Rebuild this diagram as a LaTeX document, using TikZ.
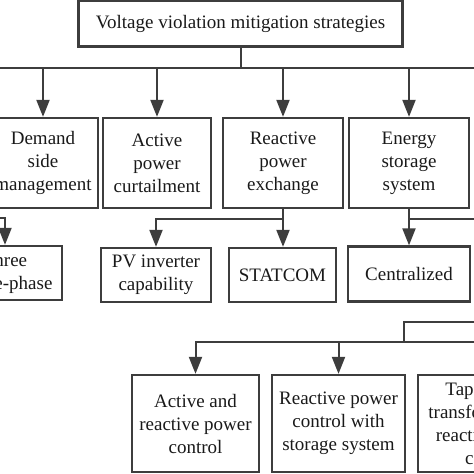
\documentclass[tikz,border=0pt]{standalone}
\usepackage{fontspec}
\setmainfont{Liberation Serif}
\usepackage{tikz}
\usetikzlibrary{arrows.meta}
\definecolor{linegray}{HTML}{3D3D3D}
\tikzset{box/.style={draw=linegray, line width=2.3pt, align=center, inner sep=1pt, text=black!90,
    font=\fontsize{19}{23}\selectfont}}
\tikzset{link/.style={draw=linegray, line width=2pt}}
\tikzset{arr/.style={link, -{Triangle[length=17pt, width=13pt]}}}

\begin{document}
\begin{tikzpicture}[x=1pt, y=-1pt]
    \useasboundingbox (0, 0) rectangle (474, 474);
    \clip (0, 0) rectangle (474, 474);

    \node[box, minimum width=324pt, minimum height=46pt] at (240.5, 23.5) (top) {Voltage violation mitigation strategies};

    % first level
    \node[box, minimum width=110pt, minimum height=90pt] at (43, 163) (dsm) {Demand\\side\\management};
    \node[box, minimum width=108pt, minimum height=90pt] at (157, 163) (apc) {Active\\power\\curtailment};
    \node[box, minimum width=120pt, minimum height=90pt] at (283, 163) (rpe) {Reactive\\power\\exchange};
    \node[box, minimum width=120pt, minimum height=90pt] at (409, 163) (ess) {Energy\\storage\\system};

    % second level
    \node[box, minimum width=114pt, minimum height=54pt] at (5, 273) (phase) {Three\\single-phase};
    \node[box, minimum width=110pt, minimum height=54pt] at (156, 275) (pvinv) {PV inverter\\capability};
    \node[box, minimum width=107pt, minimum height=54pt] at (282.5, 275) (statcom) {STATCOM};
    \node[box, minimum width=122pt, minimum height=55pt] at (409, 274) (central) {Centralized};

    % third level
    \node[box, minimum width=127pt, minimum height=97pt] at (195.5, 423.5) (arpc) {Active and\\reactive power\\control};
    \node[box, minimum width=133pt, minimum height=97pt] at (338.5, 423.5) (rpcs) {Reactive power\\control with\\storage system};
    \node[box, minimum width=148pt, minimum height=97pt] at (492, 423.5) (tapc) {Tap changer\\transformer with\\reactive power\\control};

    \coordinate (busL) at (-20, 68);
    \coordinate (busR) at (500, 68);
    \draw[link] (top.south) -- (top.south |- busL);
    \draw[link] (busL) -- (busR);
    \foreach \n in {dsm, apc, rpe, ess}
        \draw[arr] (\n.north |- busL) -- (\n.north);

    \coordinate (dsmL) at (-20, 218);
    \draw[arr] (dsmL) -| (phase.north);

    \coordinate (rpeS) at (283, 219);
    \draw[link] (rpe.south) -- (rpeS);
    \draw[arr] (rpeS) -| (pvinv.north);
    \draw[arr] (rpeS) -- (rpeS |- statcom.north);

    \coordinate (essS) at (409, 219);
    \coordinate (essR) at (500, 219);
    \draw[link] (ess.south) -- (essS) -- (essR);
    \draw[arr] (essS) -- (central.north);

    \coordinate (upR) at (500, 322);
    \coordinate (upJ) at (404, 322);
    \coordinate (lowJ) at (404, 342);
    \coordinate (lowR) at (600, 342);
    \draw[link] (upR) -- (upJ) -- (lowJ);
    \draw[arr] (lowR) -| (arpc.north);
    \draw[arr] (rpcs.north |- lowJ) -- (rpcs.north);
\end{tikzpicture}
\end{document}
